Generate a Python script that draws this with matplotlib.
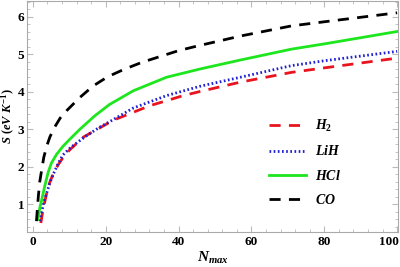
import matplotlib
matplotlib.use('Agg')
import matplotlib.pyplot as plt
from matplotlib.ticker import MultipleLocator
from matplotlib.transforms import ScaledTranslation

# values
n_co = [1, 1.5, 1.9, 2.4, 3.0, 3.8, 4.7, 6, 7.5, 9.3, 12.9, 16.6, 20.5, 25, 30, 40, 45, 57, 71, 80, 100]
s_co = [0.55, 1.2, 1.6, 1.9, 2.25, 2.55, 2.8, 3.06, 3.3, 3.5, 3.85, 4.16, 4.4, 4.6, 4.79, 5.1, 5.22, 5.49, 5.76, 5.87, 6.11]

n_hcl = [1.4, 1.9, 2.4, 3.3, 4.2, 5.1, 6.5, 8.3, 10.2, 12.9, 17, 21, 27.6, 36.7, 45.9, 57, 71, 80, 100]
s_hcl = [0.6, 0.9, 1.1, 1.5, 1.85, 2.1, 2.33, 2.55, 2.74, 3.0, 3.36, 3.66, 4.03, 4.39, 4.61, 4.85, 5.14, 5.28, 5.61]

n_lih = [1.9, 2.4, 3.0, 3.8, 4.7, 5.6, 7, 8.3, 10.2, 12.9, 15.2, 18.4, 21, 27.6, 36.7, 45.9, 57, 71, 80, 100]
s_lih = [0.55, 0.78, 1.05, 1.3, 1.58, 1.8, 2.1, 2.32, 2.5, 2.7, 2.86, 3.06, 3.2, 3.57, 3.9, 4.15, 4.39, 4.7, 4.83, 5.08]

n_h2 = [2.2, 2.7, 3.3, 4.0, 4.7, 5.8, 7, 8.5, 10.2, 14, 18.4, 22, 32.1, 41.3, 45.9, 57, 71, 80, 100]
s_h2 = [0.5, 0.8, 1.08, 1.38, 1.6, 1.86, 2.06, 2.28, 2.46, 2.8, 3.04, 3.24, 3.63, 3.9, 4.01, 4.26, 4.52, 4.64, 4.9]

x_ticks = [0, 20, 40, 60, 80, 100]

plt.rcParams['font.family'] = ['Liberation Serif', 'DejaVu Serif']
plt.rcParams['font.weight'] = 'bold'
plt.rcParams['mathtext.fontset'] = 'custom'
plt.rcParams['mathtext.it'] = 'Liberation Serif:italic:bold'
plt.rcParams['mathtext.rm'] = 'Liberation Serif:bold'
plt.rcParams['mathtext.bf'] = 'Liberation Serif:bold'

fig = plt.figure(figsize=(4, 2.67), dpi=100)
ax = fig.add_axes([0.0675, 0.131, 0.928, 0.866])

ax.plot(n_h2, s_h2, color='#e8141e', lw=2.0, dashes=(4, 3), label=r'$H_2$')
ax.plot(n_lih, s_lih, color='#1e1ed2', lw=2.0, dashes=(0.6, 0.9), label=r'$LiH$')
ax.plot(n_hcl, s_hcl, color='#1ee61e', lw=2.0, label=r'$HCl$')
ax.plot(n_co, s_co, color='black', lw=2.0, dashes=(4, 3), label=r'$CO$')

ax.set_xlim(-1.6, 100.3)
ax.set_ylim(0.26, 6.43)
ax.set_xticks(x_ticks)
ax.set_xticklabels([str(t) for t in x_ticks])
ax.xaxis.set_minor_locator(MultipleLocator(4))
ax.yaxis.set_major_locator(MultipleLocator(1))
ax.yaxis.set_minor_locator(MultipleLocator(0.2))
ax.tick_params(which='both', direction='in', color='#bbbbbb', top=True, right=True,
               labeltop=False, labelright=False)
ax.tick_params(which='major', length=4, labelsize=9.5, pad=3)
ax.tick_params(axis='y', which='major', pad=2)
ax.tick_params(which='minor', length=2)
for sp in ax.spines.values():
    sp.set_color('#aaaaaa')

# keep "100" inside the figure
last = ax.get_xticklabels()[-1]
last.set_horizontalalignment('right')
last.set_transform(last.get_transform() + ScaledTranslation(2 / 100, 0, fig.dpi_scale_trans))

ax.set_xlabel(r'$N_{max}$', fontsize=11, labelpad=1)
ax.set_ylabel(r'$S\ (eV\ K^{-1})$', fontsize=9)
ax.yaxis.set_label_coords(-0.027, 0.5)

leg = ax.legend(loc='center', bbox_to_anchor=(0.75, 0.30), frameon=False,
                handlelength=2.6, labelspacing=0.75, handletextpad=0.7,
                prop={'size': 10})

fig.savefig('out.png', dpi=100)
